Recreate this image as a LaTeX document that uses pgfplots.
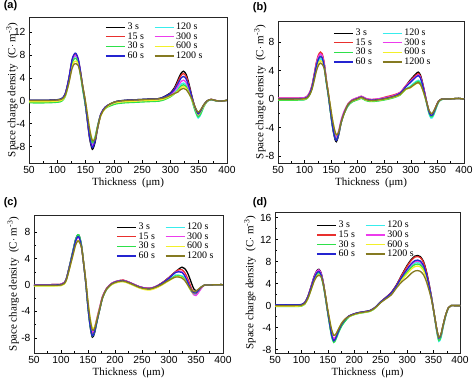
\documentclass[border=0pt]{standalone}
\usepackage{fontspec}
\setmainfont{Liberation Serif}
\newfontfamily\arial{Liberation Sans}
\usepackage{pgfplots}
\usepackage{pgfplotstable}
\pgfplotsset{compat=1.18}

\definecolor{cK}{HTML}{000000}
\definecolor{cR}{HTML}{E8302E}
\definecolor{cG}{HTML}{2EE04A}
\definecolor{cB}{HTML}{2424D0}
\definecolor{cC}{HTML}{38EDED}
\definecolor{cM}{HTML}{EC3CEC}
\definecolor{cY}{HTML}{F2F02A}
\definecolor{cO}{HTML}{857A22}

\pgfplotstableread{
x k r g b c m y o
50 0.1 0.0 -0.35 0.1 -0.25 0.0 -0.15 0.05
80 0.1 0.0 -0.35 0.1 -0.25 0.0 -0.15 0.05
100 0.2 0.1 -0.25 0.2 -0.15 0.1 -0.05 0.15
108 0.4 0.31 -0.05 0.41 0.06 0.3 0.12 0.3
114 1.2 1.14 0.74 1.24 0.87 1.11 0.84 0.95
120 3.6 3.64 3.12 3.74 3.32 3.54 3.0 2.92
126 6.9 7.07 6.38 7.17 6.69 6.87 5.97 5.63
130 7.9 8.11 7.37 8.21 7.71 7.88 6.87 6.45
133 8.0 8.22 7.47 8.32 7.81 7.98 6.96 6.53
137 7.1 7.28 6.58 7.38 6.89 7.07 6.5 6.2
141 5.0 5.1 4.5 5.2 4.75 4.95 4.9 4.7
145 2.4 2.39 1.93 2.49 2.1 2.32 2.6 2.5
149 0.0 -0.09 -0.43 0.0 -0.33 -0.09 0.4 0.4
153 -3.3 -3.16 -3.1 -3.18 -3.11 -3.09 -2.2 -2.2
157 -6.5 -6.14 -5.7 -6.27 -5.79 -6.0 -4.8 -4.9
162 -8.5 -8.0 -7.32 -8.2 -7.47 -7.83 -6.86 -7.0
167 -7.2 -6.79 -6.26 -6.94 -6.38 -6.64 -6.6 -6.6
171 -5.0 -4.74 -4.48 -4.82 -4.53 -4.64 -4.8 -4.8
177 -2.4 -2.33 -2.38 -2.31 -2.35 -2.28 -2.6 -2.5
185 -1.1 -1.12 -1.32 -1.06 -1.26 -1.09 -1.3 -1.2
195 -0.5 -0.56 -0.84 -0.48 -0.75 -0.55 -0.62 -0.44
205 -0.1 -0.19 -0.51 -0.09 -0.42 -0.18 -0.31 -0.11
220 0.1 0.0 -0.35 0.1 -0.25 0.0 -0.15 0.05
240 0.2 0.1 -0.25 0.2 -0.15 0.1 -0.05 0.15
260 0.3 0.2 -0.15 0.3 -0.05 0.2 0.05 0.25
280 0.4 0.3 -0.05 0.4 0.05 0.3 0.15 0.35
290 0.8 0.68 0.22 0.74 0.33 0.6 0.38 0.55
300 1.4 1.26 0.7 1.28 0.83 1.11 0.84 0.97
307 2.3 2.1 1.22 2.0 1.39 1.72 1.26 1.29
313 3.6 3.29 1.82 2.97 2.06 2.49 1.67 1.52
318 4.7 4.32 2.5 3.87 2.79 3.27 2.24 1.98
323 5.2 4.79 2.81 4.28 3.12 3.62 2.5 2.19
328 4.6 4.23 2.44 3.79 2.72 3.2 2.19 1.94
333 2.9 2.63 1.39 2.4 1.6 1.99 1.31 1.23
338 0.8 0.66 0.08 0.67 0.21 0.5 0.21 0.34
343 -1.0 -1.14 -1.53 -1.04 -1.57 -1.2 -1.23 -0.93
349 -2.2 -2.39 -2.81 -2.29 -3.01 -2.51 -2.4 -2.0
354 -1.6 -1.77 -2.17 -1.67 -2.29 -1.85 -1.82 -1.46
359 -0.7 -0.83 -1.0 -0.73 -1.05 -0.87 -0.93 -0.66
365 0.0 -0.05 -0.1 0.0 -0.1 -0.05 -0.05 0.0
372 0.25 0.25 0.2 0.25 0.2 0.25 0.25 0.25
380 0.05 0.05 0.0 0.05 0.0 0.05 0.05 0.05
390 -0.05 -0.05 -0.05 -0.05 -0.05 -0.05 -0.05 -0.05
400 0.1 0.1 0.1 0.1 0.1 0.1 0.1 0.1
}\tA

\pgfplotstableread{
x k r g b c m y o
50 0.05 0.15 -0.15 0.05 -0.1 0.15 -0.05 0.0
80 0.05 0.15 -0.15 0.05 -0.1 0.15 -0.05 0.0
100 0.1 0.2 -0.1 0.1 -0.05 0.2 0.0 0.05
105 0.3 0.41 0.09 0.28 0.12 0.39 0.16 0.19
110 0.9 1.02 0.67 0.85 0.67 0.98 0.67 0.67
114 1.8 1.94 1.55 1.69 1.49 1.86 1.45 1.39
118 3.3 3.47 3.0 3.1 2.85 3.33 2.74 2.59
122 4.9 5.1 4.55 4.61 4.31 4.9 4.11 3.87
126 6.0 6.22 5.62 5.64 5.31 5.98 5.06 4.75
130 6.4 6.63 6.01 6.02 5.67 6.37 5.4 5.07
133 6.2 6.42 5.81 5.83 5.49 6.18 5.23 4.91
137 4.9 5.1 4.55 4.61 4.31 4.9 4.5 4.3
141 2.6 2.75 2.32 2.44 2.22 2.65 2.6 2.5
145 0.5 0.61 0.29 0.47 0.31 0.59 0.7 0.7
149 -1.9 -1.74 -1.97 -1.84 -1.9 -1.61 -1.2 -1.2
153 -4.1 -3.88 -4.01 -3.98 -3.92 -3.59 -3.1 -3.1
157 -5.6 -5.33 -5.41 -5.43 -5.3 -4.94 -4.5 -4.5
160 -6.0 -5.72 -5.78 -5.82 -5.67 -5.3 -5.02 -5.03
164 -5.1 -4.85 -4.94 -4.95 -4.84 -4.49 -4.7 -4.7
169 -3.3 -3.1 -3.27 -3.2 -3.19 -2.87 -3.2 -3.2
175 -1.9 -1.74 -1.97 -1.84 -1.9 -1.61 -1.9 -1.9
182 -0.8 -0.68 -0.94 -0.78 -0.89 -0.62 -0.76 -0.71
190 -0.2 -0.09 -0.39 -0.19 -0.33 -0.08 -0.26 -0.22
200 0.1 0.2 -0.1 0.1 -0.05 0.2 0.0 0.05
207 0.3 0.4 0.1 0.3 0.15 0.4 0.2 0.25
215 0.0 0.1 -0.2 0.0 -0.15 0.1 -0.1 -0.05
225 -0.15 -0.05 -0.35 -0.15 -0.3 -0.05 -0.25 -0.2
240 -0.05 0.05 -0.25 -0.05 -0.2 0.05 -0.15 -0.1
255 0.15 0.35 -0.05 0.15 0.0 0.25 0.05 0.1
268 0.4 0.6 0.2 0.4 0.25 0.5 0.3 0.35
280 0.9 0.96 0.57 0.84 0.63 0.94 0.63 0.68
290 1.8 1.83 1.34 1.68 1.42 1.78 1.37 1.42
298 2.6 2.49 1.65 2.26 1.77 2.36 1.54 1.59
305 3.2 3.04 2.07 2.78 2.22 2.88 1.92 1.97
310 3.6 3.41 2.36 3.13 2.51 3.23 2.17 2.22
314 3.8 3.6 2.5 3.31 2.66 3.41 2.29 2.34
318 3.4 3.23 2.21 2.96 2.37 3.06 2.04 2.09
322 2.3 2.22 1.43 2.0 1.55 2.1 1.35 1.4
326 0.9 0.93 0.44 0.78 0.52 0.88 0.47 0.52
330 -0.5 -0.48 -0.67 -0.55 -0.7 -0.5 -0.58 -0.51
334 -1.6 -1.63 -1.92 -1.76 -2.06 -1.71 -1.73 -1.55
338 -2.1 -2.16 -2.49 -2.31 -2.68 -2.26 -2.26 -2.03
342 -1.9 -1.95 -2.27 -2.09 -2.44 -2.04 -2.05 -1.84
347 -1.1 -1.1 -1.35 -1.21 -1.44 -1.16 -1.21 -1.08
352 -0.3 -0.3 -0.44 -0.33 -0.45 -0.28 -0.37 -0.32
358 0.0 0.0 -0.05 0.0 -0.05 0.0 0.0 0.0
365 0.0 0.0 0.0 0.0 0.0 0.0 0.0 0.0
380 0.05 0.05 0.05 0.05 0.05 0.05 0.05 0.05
390 0.1 0.1 0.1 0.1 0.1 0.1 0.1 0.1
400 0.0 0.0 0.0 0.0 0.0 0.0 0.0 0.0
}\tB

\pgfplotstableread{
x k r g b c m y o
50 0.05 0.05 -0.1 0.0 -0.05 0.05 -0.15 -0.05
80 0.05 0.05 -0.1 0.0 -0.05 0.05 -0.15 -0.05
100 0.1 0.1 -0.05 0.05 0.0 0.1 -0.1 0.0
106 0.35 0.34 0.2 0.29 0.25 0.34 0.12 0.22
110 1.0 0.96 0.86 0.92 0.9 0.95 0.71 0.8
114 2.3 2.21 2.17 2.18 2.2 2.19 1.9 1.95
118 3.7 3.55 3.59 3.54 3.6 3.52 3.17 3.2
123 5.5 5.28 5.4 5.29 5.4 5.23 4.81 4.8
127 6.9 6.63 6.82 6.64 6.8 6.56 6.08 6.05
131 7.6 7.3 7.6 7.32 7.55 7.22 6.72 6.67
134 7.4 7.11 7.38 7.13 7.3 7.03 6.54 6.49
138 6.0 5.76 5.91 5.77 5.9 5.7 5.7 5.7
142 3.3 3.17 3.18 3.15 3.2 3.14 3.3 3.3
146 0.3 0.29 0.15 0.24 0.2 0.29 0.6 0.6
150 -3.4 -3.12 -3.41 -3.35 -3.29 -3.06 -2.5 -2.6
154 -6.3 -5.79 -6.2 -6.16 -6.02 -5.67 -5.0 -5.2
158 -7.9 -7.26 -7.73 -7.71 -7.52 -7.11 -6.5 -6.8
162 -7.3 -6.71 -7.16 -7.13 -6.96 -6.57 -6.4 -6.6
167 -5.4 -4.96 -5.33 -5.29 -5.17 -4.86 -5.0 -5.1
172 -3.6 -3.31 -3.6 -3.54 -3.48 -3.24 -3.4 -3.5
177 -1.9 -1.74 -1.97 -1.89 -1.88 -1.71 -1.9 -1.9
185 -0.5 -0.46 -0.63 -0.53 -0.57 -0.45 -0.6 -0.52
195 0.3 0.3 0.15 0.25 0.2 0.3 0.1 0.2
205 0.6 0.6 0.45 0.55 0.5 0.6 0.4 0.5
215 0.7 0.75 0.55 0.65 0.6 0.7 0.5 0.6
225 0.45 0.45 0.3 0.4 0.35 0.45 0.25 0.35
235 0.1 0.1 -0.05 0.05 0.0 0.1 -0.1 0.0
245 -0.25 -0.25 -0.4 -0.3 -0.35 -0.25 -0.45 -0.35
255 -0.45 -0.45 -0.6 -0.5 -0.55 -0.45 -0.7 -0.55
265 -0.5 -0.5 -0.65 -0.55 -0.6 -0.5 -0.75 -0.6
275 -0.25 -0.25 -0.4 -0.3 -0.35 -0.25 -0.5 -0.35
285 0.2 0.2 0.0 0.15 0.1 0.15 -0.1 0.0
295 0.8 0.8 0.5 0.7 0.6 0.7 0.4 0.5
305 1.5 1.5 1.0 1.4 1.1 1.4 0.9 0.95
312 2.0 2.0 1.35 1.9 1.5 1.9 1.25 1.2
318 2.4 2.3 1.4 2.0 1.5 2.1 1.3 1.2
324 2.7 2.3 1.25 1.9 1.4 2.0 1.15 1.05
329 2.5 1.9 0.9 1.4 1.0 1.5 0.8 0.7
334 1.9 1.1 0.2 0.6 0.3 0.7 0.1 0.1
338 1.1 0.3 -0.5 -0.2 -0.4 -0.2 -0.5 -0.4
342 0.2 -0.6 -1.0 -0.9 -1.0 -1.0 -1.0 -0.8
346 -0.6 -1.1 -1.3 -1.2 -1.4 -1.5 -1.3 -1.0
350 -0.9 -1.3 -1.2 -1.2 -1.4 -1.6 -1.2 -0.9
355 -0.7 -0.9 -0.8 -0.8 -0.9 -1.1 -0.8 -0.6
360 -0.3 -0.4 -0.3 -0.3 -0.4 -0.5 -0.3 -0.3
366 0.0 0.0 0.0 0.0 0.0 0.0 0.0 0.0
375 0.0 0.0 0.0 0.0 0.0 0.0 0.0 0.0
390 0.05 0.05 0.05 0.05 0.05 0.05 0.05 0.05
400 0.05 0.05 0.05 0.05 0.05 0.05 0.05 0.05
}\tC

\pgfplotstableread{
x k r g b c m y o
50 0.1 0.1 -0.15 0.15 -0.1 0.05 -0.1 0.0
80 0.1 0.1 -0.15 0.15 -0.1 0.05 -0.1 0.0
100 0.15 0.15 -0.1 0.2 -0.05 0.1 -0.05 0.05
106 0.5 0.49 0.23 0.52 0.27 0.45 0.25 0.34
112 1.6 1.56 1.28 1.55 1.28 1.54 1.22 1.28
118 3.4 3.3 2.99 3.22 2.94 3.32 2.8 2.81
124 5.3 5.14 4.79 4.99 4.68 5.2 4.48 4.42
129 6.3 6.11 5.74 5.92 5.6 6.19 5.36 5.27
133 6.6 6.41 6.03 6.2 5.88 6.49 5.62 5.53
137 6.0 5.82 5.46 5.64 5.33 5.89 5.4 5.3
141 4.4 4.27 3.94 4.15 3.86 4.31 4.1 4.0
145 2.0 1.94 1.66 1.92 1.65 1.93 2.1 2.1
149 -0.6 -0.59 -0.86 -0.56 -0.81 -0.62 -0.3 -0.3
153 -3.0 -2.94 -3.31 -3.01 -3.26 -2.9 -2.4 -2.4
157 -5.2 -5.09 -5.56 -5.26 -5.51 -4.99 -4.3 -4.3
161 -6.3 -6.17 -6.68 -6.38 -6.63 -6.03 -5.41 -5.38
165 -5.8 -5.68 -6.17 -5.87 -6.12 -5.56 -5.2 -5.2
170 -4.6 -4.51 -4.94 -4.64 -4.89 -4.42 -4.3 -4.3
176 -3.4 -3.33 -3.72 -3.42 -3.67 -3.28 -3.2 -3.2
183 -2.5 -2.45 -2.8 -2.5 -2.75 -2.42 -2.4 -2.4
190 -1.9 -1.9 -2.03 -1.87 -2.0 -1.92 -2.0 -1.95
200 -1.5 -1.5 -1.63 -1.47 -1.6 -1.52 -1.6 -1.55
210 -1.25 -1.25 -1.38 -1.22 -1.35 -1.27 -1.35 -1.3
220 -1.1 -1.1 -1.23 -1.07 -1.2 -1.12 -1.2 -1.15
230 -0.9 -0.9 -1.03 -0.87 -1.0 -0.92 -1.0 -0.95
240 -0.3 -0.3 -0.43 -0.27 -0.4 -0.32 -0.4 -0.35
250 0.7 0.69 0.6 0.68 0.62 0.65 0.6 0.55
260 1.5 1.5 1.35 1.45 1.38 1.42 1.3 1.25
270 2.4 2.38 2.15 2.3 2.2 2.27 2.1 1.95
280 3.8 3.76 3.48 3.63 3.53 3.59 3.4 3.23
290 5.6 5.52 4.87 5.21 5.01 5.15 4.7 4.34
300 7.3 7.15 6.06 6.64 6.28 6.5 5.77 5.11
308 8.4 8.23 6.97 7.64 7.22 7.48 6.64 5.88
315 9.0 8.82 7.47 8.19 7.74 8.01 7.11 6.3
320 9.1 8.92 7.55 8.28 7.83 8.1 7.19 6.37
325 8.9 8.72 7.39 8.1 7.65 7.92 7.03 6.23
331 8.0 7.84 6.64 7.28 6.88 7.12 6.32 5.6
336 6.4 6.27 5.31 5.82 5.5 5.7 5.06 4.48
341 4.2 4.12 3.49 3.82 3.61 3.74 3.32 2.94
346 1.6 1.57 1.33 1.46 1.38 1.42 1.26 1.12
351 -1.4 -1.4 -1.5 -1.4 -1.54 -1.44 -1.4 -1.36
356 -4.3 -4.3 -4.6 -4.3 -4.73 -4.43 -4.3 -4.17
360 -5.9 -5.9 -6.31 -5.9 -6.49 -6.08 -5.9 -5.72
364 -5.3 -5.3 -5.67 -5.3 -5.83 -5.46 -5.3 -5.14
368 -3.6 -3.6 -3.85 -3.6 -3.96 -3.71 -3.6 -3.49
373 -1.7 -1.7 -1.82 -1.7 -1.87 -1.75 -1.7 -1.65
378 -0.4 -0.4 -0.43 -0.4 -0.44 -0.41 -0.4 -0.39
383 0.0 0.0 0.0 0.0 0.0 0.0 0.0 0.0
390 0.0 0.0 0.0 0.0 0.0 0.0 0.0 0.0
400 0.0 0.0 0.0 0.0 0.0 0.0 0.0 0.0
}\tD

\pgfplotsset{
  panel/.style={
    scale only axis,
    xmin=50, xmax=400,
    xtick={50,100,...,400},
    minor x tick num=1,
    minor y tick num=1,
    tick align=inside,
    xtick pos=left, ytick pos=left,
    major tick length=3pt, minor tick length=1.8pt,
    tick style={black, line width=0.5pt},
    axis line style={line width=0.7pt, black!85},
    ticklabel style={font=\arial\fontsize{10.3}{11}\selectfont},
    /pgf/number format/assume math mode=true,
    xlabel={Thickness\ \ (μm)},
    ylabel={Space charge density\ \ (C$\cdot$ m\textsuperscript{-3})},
    label style={font=\fontsize{11}{13}\selectfont},
    xlabel style={at={(axis description cs:0.5,0)}, anchor=center, yshift=-19.5pt},
    legend cell align=left,
    legend columns=2,
    legend style={draw=none, fill=none, font=\fontsize{10}{11}\selectfont,
      anchor=north west, inner sep=0pt, row sep=-2.6pt,
      /tikz/every even column/.append style={column sep=8pt}},
    legend image code/.code={\draw[##1, line width=1.3pt] (0pt,0pt) -- (19pt,0pt);},
    every axis plot/.append style={line width=1.3pt, smooth, tension=0.5, no markers},
  }
}

\newcommand{\plotall}[1]{%
  \addplot[cK] table[x=x,y=k]{#1}; \addlegendentry{3 s}
  \addplot[cC] table[x=x,y=c]{#1}; \addlegendentry{120 s}
  \addplot[cR] table[x=x,y=r]{#1}; \addlegendentry{15 s}
  \addplot[cM] table[x=x,y=m]{#1}; \addlegendentry{300 s}
  \addplot[cG] table[x=x,y=g]{#1}; \addlegendentry{30 s}
  \addplot[cY] table[x=x,y=y]{#1}; \addlegendentry{600 s}
  \addplot[cB] table[x=x,y=b]{#1}; \addlegendentry{60 s}
  \addplot[cO] table[x=x,y=o]{#1}; \addlegendentry{1200 s}
}

\begin{document}
\begin{tikzpicture}
\useasboundingbox (0pt,0pt) rectangle (474pt,381pt);

% (a)
\begin{axis}[panel, at={(29pt,218pt)}, anchor=south west,
  width=198pt, height=146pt, ymin=-10.9, ymax=14.7, ytick={-8,-4,0,4,8,12},
  ylabel style={at={(axis description cs:-0.086,0.5)}, anchor=center},
  legend style={at={(axis description cs:0.384,0.973)}}]
\plotall{\tA}
\end{axis}

% (b)
\begin{axis}[panel, at={(278pt,218pt)}, anchor=south west,
  width=186pt, height=142pt, ymin=-9, ymax=11, ytick={-8,-4,0,4,8},
  ylabel style={at={(axis description cs:-0.097,0.5)}, anchor=center},
  legend style={at={(axis description cs:0.296,0.958)}}]
\plotall{\tB}
\end{axis}

% (c)
\begin{axis}[panel, at={(34pt,28pt)}, anchor=south west,
  width=189pt, height=138pt, ymin=-10.3, ymax=10.6, ytick={-8,-4,0,4,8},
  ylabel style={at={(axis description cs:-0.11,0.5)}, anchor=center},
  legend style={at={(axis description cs:0.434,0.957)}}]
\plotall{\tC}
\end{axis}

% (d)
\begin{axis}[panel, at={(275pt,28pt)}, anchor=south west,
  width=185pt, height=141pt, ymin=-8.6, ymax=17.0, ytick={-8,-4,0,4,8,12,16},
  ylabel style={at={(axis description cs:-0.135,0.5)}, anchor=center},
  legend style={at={(axis description cs:0.222,0.95)}}]
\plotall{\tD}
\end{axis}

\node[font=\arial\bfseries\fontsize{11}{12}\selectfont] at (10.5pt,375pt) {(a)};
\node[font=\arial\bfseries\fontsize{11}{12}\selectfont] at (260pt,373.5pt) {(b)};
\node[font=\arial\bfseries\fontsize{11}{12}\selectfont] at (10.5pt,178pt) {(c)};
\node[font=\arial\bfseries\fontsize{11}{12}\selectfont] at (260pt,178pt) {(d)};
\end{tikzpicture}
\end{document}
